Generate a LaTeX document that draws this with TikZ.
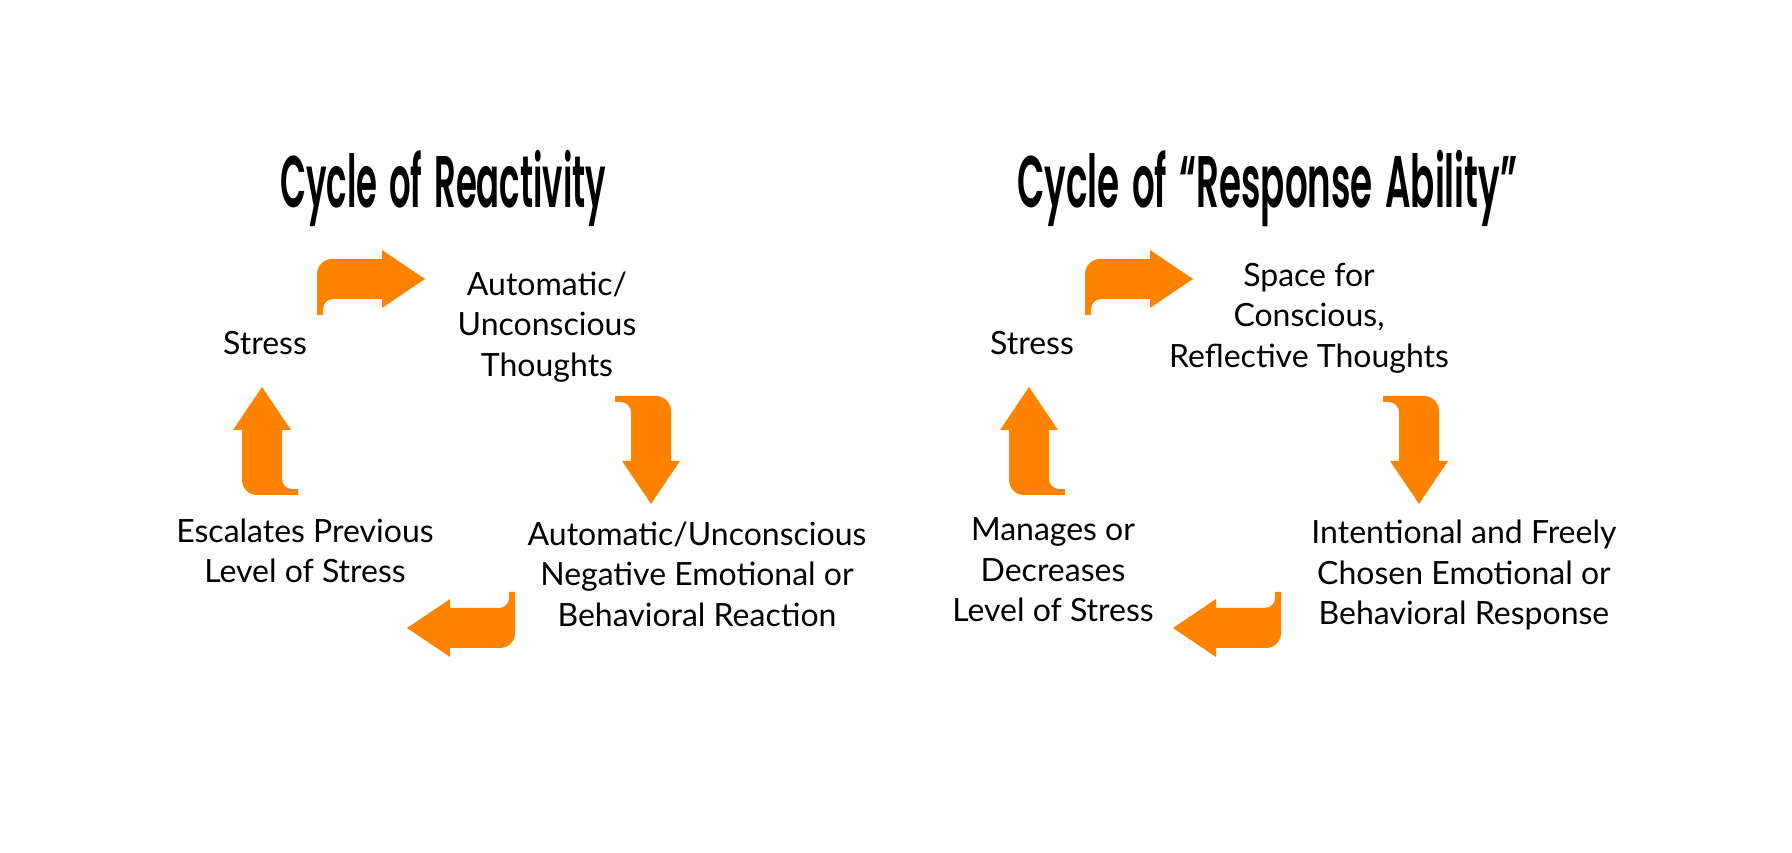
\documentclass[tikz,border=0pt]{standalone}
\usepackage{fontspec}
\setmainfont{Lato}
\newfontfamily\titlefont{Poppins}[UprightFont=* SemiBold]
\definecolor{arrorange}{HTML}{FF8300}
\newcommand{\tsp}{\hspace{0.35em}}
\tikzset{
  x=1pt, y=1pt,
  lbl/.style={align=center, font=\fontsize{32}{40.5}\selectfont, inner sep=0pt},
  ttl/.style={anchor=base west, inner sep=0pt, font=\fontsize{73}{76}\titlefont},
  bent/.pic={
    \fill[arrorange] (0,0) -- (0,41) .. controls (0,49.3) and (6.7,56) .. (15,56)
      -- (65,56) -- (65,65) -- (108,36) -- (65,7) -- (65,16)
      -- (16,16) .. controls (10.5,16) and (6,11.5) .. (6,6) -- (6,0) -- cycle;
  }
}
\begin{document}
\begin{tikzpicture}
\useasboundingbox (0,0) rectangle (1792,852);
% titles
\node[ttl] (t1) at (280,644) {\resizebox{326pt}{\height}{Cycle\tsp of\tsp Reactivity}};
\node[ttl] (t2) at (1017,644) {\resizebox{500pt}{\height}{Cycle\tsp of\tsp “Response\tsp Ability”}};
% left cycle
\node[lbl] (stressL) at (265,509) {Stress};
\node[lbl] (autoL) at (547,525) {Automatic/\\Unconscious\\Thoughts};
\node[lbl] (reactL) at (697,278) {Automatic/Unconscious\\Negative Emotional or\\Behavioral Reaction};
\node[lbl] (escL) at (305,301) {Escalates Previous\\Level of Stress};
\pic at (317,537) {bent};
\pic[rotate=-90] at (615,456) {bent};
\pic[rotate=180] at (515,260) {bent};
\pic[rotate=90] at (298,357) {bent};
% right cycle
\node[lbl] (stressR) at (1032,509) {Stress};
\node[lbl] (spaceR) at (1309,534) {Space for\\Conscious,\\Reflective Thoughts};
\node[lbl] (respR) at (1464,277) {Intentional and Freely\\Chosen Emotional or\\Behavioral Response};
\node[lbl] (manR) at (1053,282) {Manages or\\Decreases\\Level of Stress};
\pic at (1085,537) {bent};
\pic[rotate=-90] at (1383,456) {bent};
\pic[rotate=180] at (1281,260) {bent};
\pic[rotate=90] at (1065,357) {bent};
\end{tikzpicture}
\end{document}
